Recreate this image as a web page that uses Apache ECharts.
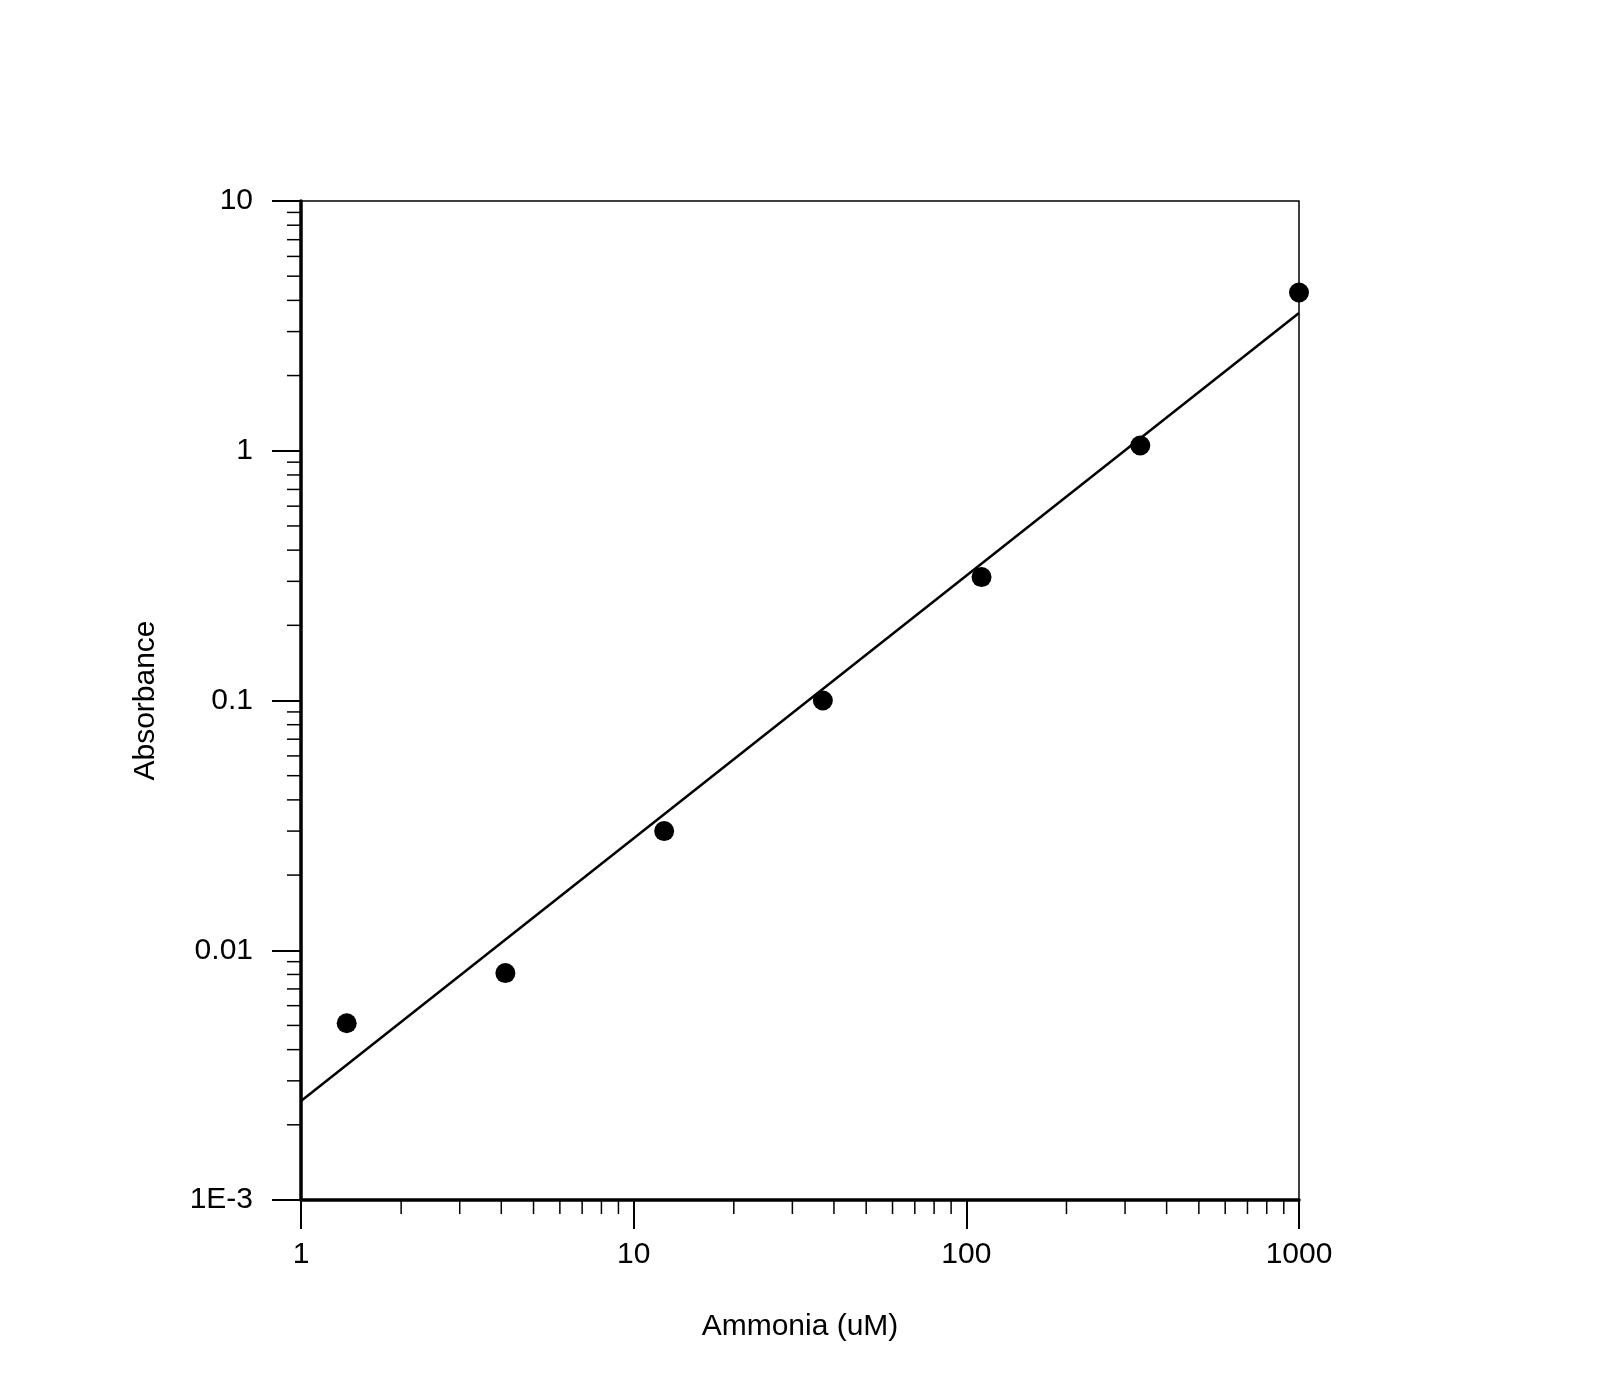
<!DOCTYPE html>
<html><head><meta charset="utf-8">
<script src="https://cdn.jsdelivr.net/npm/echarts@6/dist/echarts.min.js"></script>
<style>html,body{margin:0;background:#fff}#c{width:1600px;height:1400px}</style>
</head><body><div id="c"></div>
<script>
var ammonia = [1.372, 4.115, 12.35, 37.04, 111.1, 333.3, 1000];
var absorbance = [0.0051, 0.0081, 0.030, 0.100, 0.312, 1.05, 4.3];
var fitX = [1, 1000];
var fitY = [0.00249, 3.56];
var xMinor = [];
[1,10,100].forEach(function(d){for(var k=2;k<=9;k++)xMinor.push(d*k);});
var yMinor = [];
[0.001,0.01,0.1,1].forEach(function(d){for(var k=2;k<=9;k++)yMinor.push(d*k);});
var F = 'Liberation Sans, Arial, sans-serif';
var chart = echarts.init(document.getElementById('c'));
function fmtY(v){ if (Math.abs(v-0.001)<1e-9) return '1E-3'; return String(+v.toPrecision(3)); }
function fmtX(v){ return String(Math.round(v)); }
chart.setOption({
  animation:false,
  grid:{left:301,top:201,width:998,height:999,show:true,borderColor:'#000',borderWidth:1.5},
  xAxis:{type:'log',logBase:10,min:1,max:1000,name:'Ammonia (uM)',nameLocation:'middle',nameGap:112,
    nameTextStyle:{fontFamily:F,fontSize:30,color:'#000'},
    axisLine:{lineStyle:{color:'#000',width:3.5}},
    axisTick:{inside:false,length:29,lineStyle:{color:'#000',width:2}},
    axisLabel:{fontFamily:F,fontSize:30,color:'#000',margin:40,formatter:fmtX},
    splitLine:{show:false}},
  yAxis:{type:'log',logBase:10,min:0.001,max:10,name:'Absorbance',nameLocation:'middle',nameGap:140,
    nameTextStyle:{fontFamily:F,fontSize:30,color:'#000'},
    axisLine:{lineStyle:{color:'#000',width:3.5}},
    axisTick:{length:29,lineStyle:{color:'#000',width:2}},
    axisLabel:{fontFamily:F,fontSize:30,color:'#000',margin:48,formatter:fmtY},
    splitLine:{show:false}},
  series:[
    {type:'line',data:fitX.map(function(x,i){return [x,fitY[i]];}),symbol:'none',
     lineStyle:{color:'#000',width:2.5},silent:true},
    {type:'scatter',data:ammonia.map(function(x,i){return [x,absorbance[i]];}),
     symbolSize:20,itemStyle:{color:'#000',opacity:1}},
    {type:'custom',clip:false,silent:true,data:xMinor.map(function(v){return [v];}),
     renderItem:function(p,api){var c=api.coord([api.value(0),0.001]);
       return {type:'line',shape:{x1:c[0],y1:c[1],x2:c[0],y2:c[1]+14},style:{stroke:'#000',lineWidth:1.5}};}},
    {type:'custom',clip:false,silent:true,data:yMinor.map(function(v){return [1,v];}),
     renderItem:function(p,api){var c=api.coord([1,api.value(1)]);
       return {type:'line',shape:{x1:c[0],y1:c[1],x2:c[0]-14,y2:c[1]},style:{stroke:'#000',lineWidth:1.5}};}}
  ]
});
</script></body></html>
